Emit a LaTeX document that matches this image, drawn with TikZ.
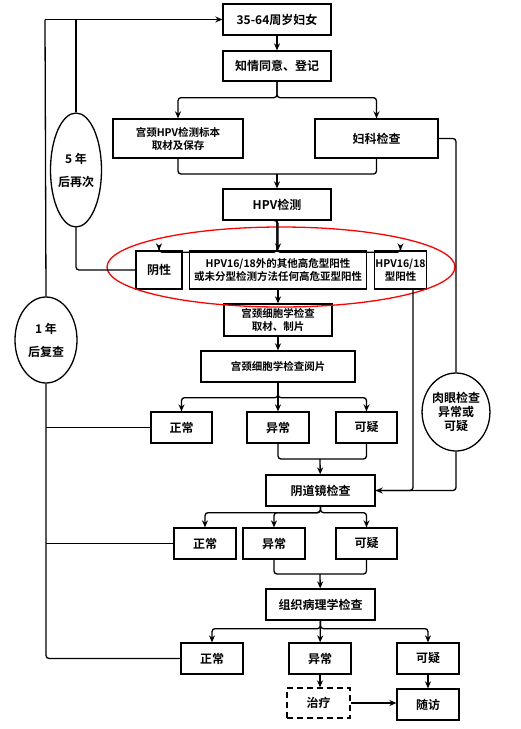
\documentclass[tikz,border=0pt]{standalone}
\usepackage{fontspec}
\setmainfont{Noto Sans CJK SC}[BoldFont={Noto Sans CJK SC Bold}]
\usetikzlibrary{arrows.meta,shapes.geometric}

\tikzset{
  box/.style={draw, line width=1.3pt, minimum height=31pt, inner sep=1pt, align=center,
    font=\bfseries\fontsize{12}{14}\selectfont},
  small/.style={font=\bfseries\fontsize{10.5}{13}\selectfont},
  oval/.style={draw, ellipse, line width=1.3pt, inner sep=0pt, align=center,
    font=\bfseries\fontsize{12}{14}\selectfont},
  link/.style={line width=1.3pt, rounded corners=3pt},
  arr/.style={link, -{Stealth[length=7pt,width=6pt]}}
}

\begin{document}
\begin{tikzpicture}[x=1pt,y=-1pt]
    \useasboundingbox (0,0) rectangle (521,729);

    % Main column
    \node[box, minimum width=108pt] (women) at (277,19.5) {35-64周岁妇女};
    \node[box, minimum width=108pt, minimum height=30pt] (consent) at (277,66) {知情同意、登记};
    \node[box, small, minimum width=130pt, minimum height=39pt] (sample) at (178,138.5) {宫颈HPV检测标本\\取材及保存};
    \node[box, minimum width=123pt, minimum height=39pt] (gyn) at (376.5,138.5) {妇科检查};
    \node[box, minimum width=108pt] (hpv) at (277,204.5) {HPV检测};

    % HPV results
    \node[box, minimum width=46pt, minimum height=38pt] (neg) at (159,270) {阴性};
    \node[box, small, minimum width=177pt, minimum height=38pt] (other) at (278,270) {HPV16/18外的其他高危型阳性\\或未分型检测方法任何高危亚型阳性};
    \node[box, small, minimum width=51pt, minimum height=38pt] (hpv1618) at (400.5,270) {HPV16/18\\型阳性};

    % Cytology
    \node[box, small, minimum width=108pt, minimum height=32pt] (cyto) at (278,320) {宫颈细胞学检查\\取材、制片};
    \node[box, small, minimum width=154pt] (read) at (278,366.5) {宫颈细胞学检查阅片};
    \node[box, minimum width=61pt] (normA) at (181.5,427.5) {正常};
    \node[box, minimum width=62pt] (abnA) at (278,427.5) {异常};
    \node[box, minimum width=61pt] (suspA) at (366.5,427.5) {可疑};

    % Colposcopy
    \node[box, minimum width=109pt] (colpo) at (320.5,490.5) {阴道镜检查};
    \node[box, minimum width=62pt] (normB) at (205,543.5) {正常};
    \node[box, minimum width=62pt] (abnB) at (274,543.5) {异常};
    \node[box, minimum width=61pt] (suspB) at (366.5,543.5) {可疑};

    % Histopathology
    \node[box, minimum width=109pt] (histo) at (320.5,604.5) {组织病理学检查};
    \node[box, minimum width=62pt] (normC) at (212,658.5) {正常};
    \node[box, minimum width=62pt] (abnC) at (320,658.5) {异常};
    \node[box, minimum width=62pt] (suspC) at (428,658.5) {可疑};
    \node[box, dash pattern=on 6pt off 4pt, minimum width=63pt, minimum height=30pt] (treat) at (318.5,703) {治疗};
    \node[box, minimum width=62pt] (follow) at (428,704.5) {随访};

    % Side ovals
    \node[oval, minimum width=51pt, minimum height=114pt] (five) at (76,170) {5 年\\[9pt]后再次};
    \node[oval, minimum width=62pt, minimum height=86pt] (one) at (46,340) {1 年\\[9pt]后复查};
    \node[oval, minimum width=61pt, minimum height=78pt] (eye) at (456,412) {肉眼检查\\异常或\\可疑};

    % Highlight
    \draw[red, line width=1.3pt] (281,267) ellipse [x radius=174pt, y radius=40pt];

    \coordinate (top) at (45,19.5);
    \coordinate (m1) at (277,174);
    \coordinate (m2) at (320,459);
    \coordinate (m3) at (320,574);

    % Connectors
    \draw[arr] (women) -- (consent);
    \draw[arr] (consent.south) -- ++(0,16) -| (sample.north);
    \draw[arr] (consent.south) -- ++(0,16) -| (gyn.north);
    \draw[link] (sample.south) |- (m1) -| (gyn.south);
    \draw[arr] (m1) -- (hpv);
    \draw[link] (gyn.east) -| (eye.north);
    \draw[arr] (hpv.south) -- ++(0,31.5) -| (neg.north);
    \draw[arr] (hpv.south) -- ++(0,31.5) -| (hpv1618.north);
    \draw[arr] (hpv.south) -- (other.north |- hpv.south) -- (other.north);
    \draw[link] (neg.west) -| (five.south);
    \draw[link] (five.north) -- (five.north |- top);
    \draw[arr] (top) -- (women.west);
    \draw[link] (top) -- (one.north);
    \draw[link] (one.south) |- (normC.west);
    \draw[link] (normA.west) -- (normA.west -| one.south);
    \draw[link] (normB.west) -- (normB.west -| one.south);

    \draw[arr] (other) -- (cyto);
    \draw[arr] (cyto) -- (read);
    \draw[arr] (read.south) -- ++(0,15) -| (normA.north);
    \draw[arr] (read.south) -- ++(0,15) -| (suspA.north);
    \draw[arr] (read) -- (abnA);
    \draw[link] (abnA.south) |- (m2) -| (suspA.south);
    \draw[arr] (m2) -- (colpo);
    \draw[arr] (hpv1618.south) ++(12.5,0) |- (colpo.east);
    \draw[link] (eye.south) |- (colpo.east);

    \draw[arr] (colpo.south) -- ++(0,6) -| (normB.north);
    \draw[arr] (colpo.south) -- ++(0,6) -| (suspB.north);
    \draw[arr] (colpo.south) -- ++(0,6) -| (abnB.north);
    \draw[link] (abnB.south) |- (m3) -| (suspB.south);
    \draw[arr] (m3) -- (histo);

    \draw[arr] (histo.south) -- ++(0,8) -| (normC.north);
    \draw[arr] (histo.south) -- ++(0,8) -| (suspC.north);
    \draw[arr] (histo) -- (abnC);
    \draw[arr] (abnC) -- (abnC |- treat.north);
    \draw[arr] (suspC) -- (follow);
    \draw[arr] (treat.east) -- (treat.east -| follow.west);
\end{tikzpicture}
\end{document}
